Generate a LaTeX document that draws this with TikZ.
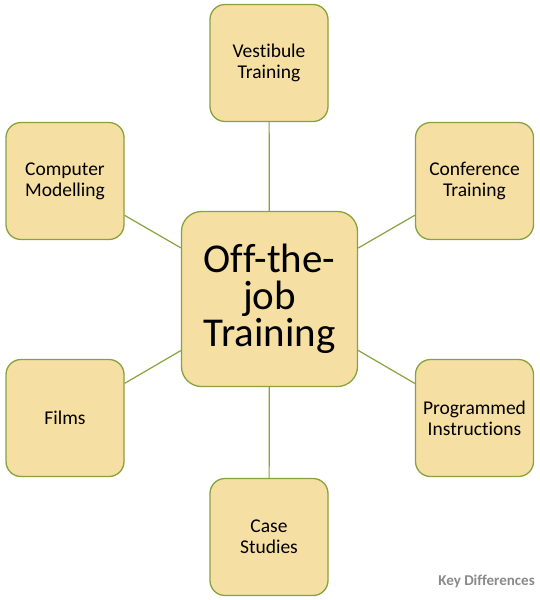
\documentclass[tikz,border=0pt]{standalone}
\usepackage{fontspec}
\setmainfont[Ligatures={NoCommon}]{Carlito}
\definecolor{boxfill}{HTML}{F6DFA2}
\definecolor{boxline}{HTML}{86A33C}
\definecolor{keygray}{HTML}{8A8A8A}
\begin{document}
\begin{tikzpicture}[x=1pt,y=-1pt,
  smallbox/.style={draw=boxline, line width=1.3pt, fill=boxfill, rounded corners=15pt,
    minimum width=118pt, minimum height=117pt, align=center, inner sep=0pt,
    font=\fontsize{19.5}{21}\selectfont},
  bigbox/.style={draw=boxline, line width=1.3pt, fill=boxfill, rounded corners=20pt,
    minimum width=176pt, minimum height=175pt, align=center, inner sep=0pt,
    font=\fontsize{41}{37}\selectfont},
  link/.style={draw=boxline, line width=1.2pt}]
\useasboundingbox (0,0) rectangle (540,600);
\node[bigbox] (c) at (269.5,299) {Off-the-\\job\\Training};
\node[smallbox] (v) at (269,63) {Vestibule\\Training};
\node[smallbox] (cm) at (65,181) {Computer\\Modelling};
\node[smallbox] (ct) at (474.5,181) {Conference\\Training};
\node[smallbox] (f) at (65,418) {Films};
\node[smallbox] (p) at (474.5,418) {Programmed\\Instructions};
\node[smallbox] (cs) at (269,537) {Case\\Studies};
\foreach \n in {v,cm,ct,f,p,cs} \draw[link] (c) -- (\n);
\node[font=\bfseries\fontsize{15}{16}\selectfont, text=keygray, anchor=east, inner sep=0pt] (k) at (535,581) {Key Differences};
\end{tikzpicture}
\end{document}
